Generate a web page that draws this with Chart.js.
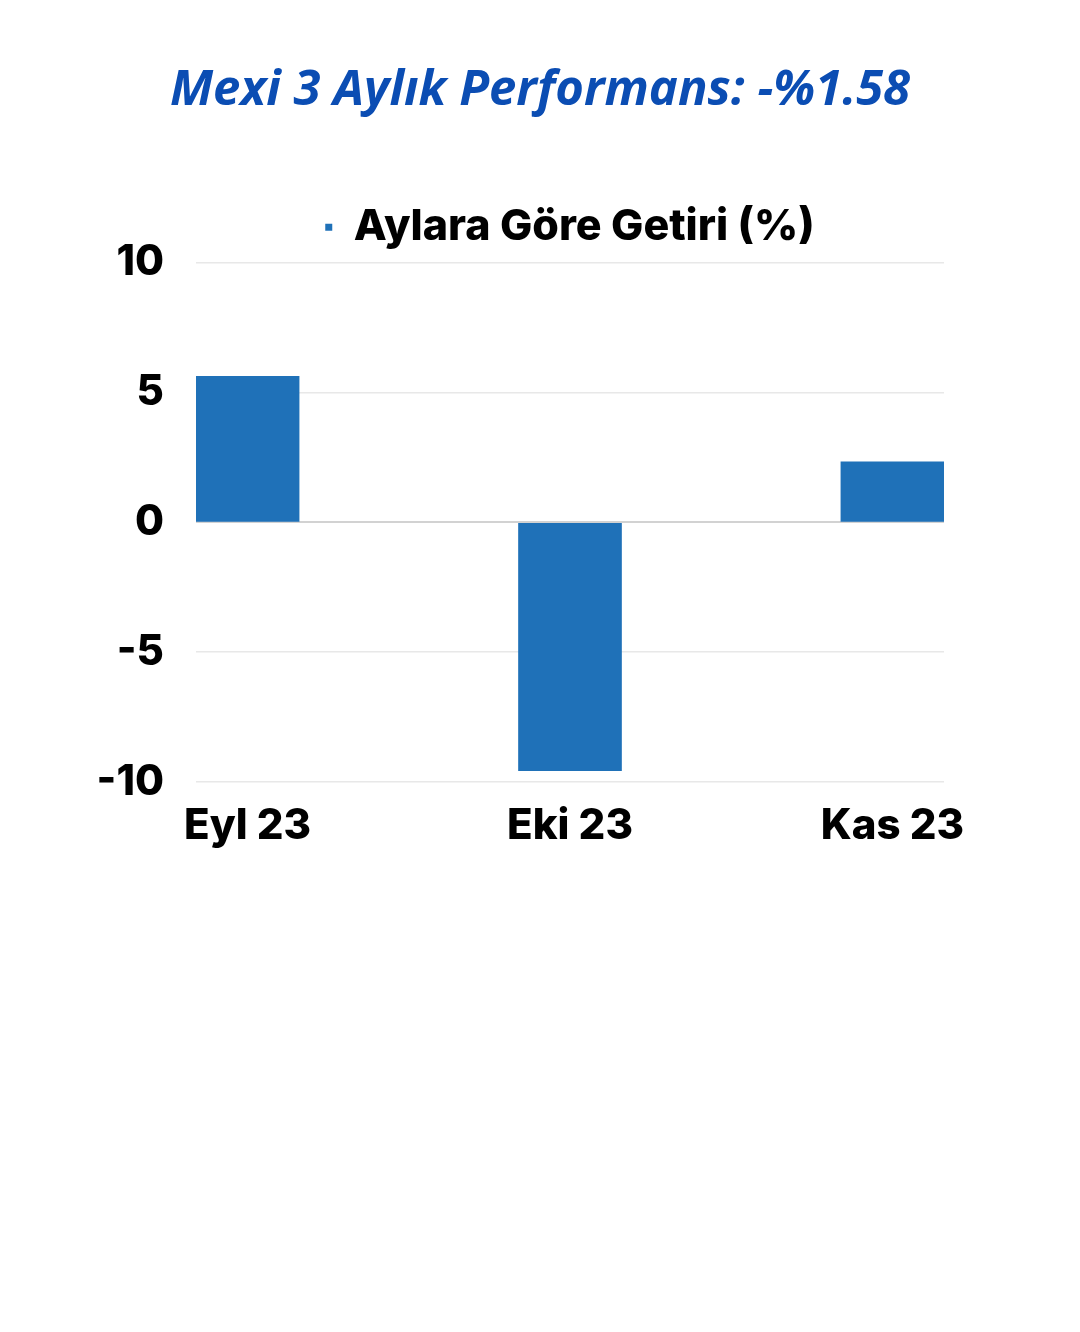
<!DOCTYPE html>
<html lang="tr">
<head>
<meta charset="utf-8">
<title>Mexi 3 Aylık Performans</title>
<script src="https://cdn.jsdelivr.net/npm/chart.js@4/dist/chart.umd.min.js"></script>
<style>
  html, body { margin: 0; padding: 0; background: #fff; }
  canvas { display: block; }
</style>
</head>
<body>
<canvas id="myChart" width="1080" height="1332"></canvas>
<script>
// ---------- data ----------
const TITLE      = "Mexi 3 Aylık Performans: -%1.58";
const SERIES     = "Aylara Göre Getiri (%)";
const categories = ["Eyl 23", "Eki 23", "Kas 23"];
const returns    = [5.63, -9.56, 2.33];
const yTicks     = [-10, -5, 0, 5, 10];

const BAR_BLUE   = "#1f71b8";
const TITLE_BLUE = "#0b4db3";
const LABEL_FONT = "Inter";

document.addEventListener("DOMContentLoaded", () => {
  const ctx = document.getElementById("myChart").getContext("2d");

  new Chart(ctx, {
    type: "bar",
    data: {
      datasets: [{
        label: SERIES,
        data: categories.map((c, i) => ({ x: i, y: returns[i] })),
        backgroundColor: BAR_BLUE,
        borderWidth: 0,
        barThickness: 103,
      }],
    },
    options: {
      responsive: false,
      animation: false,
      devicePixelRatio: 1,
      layout: { padding: { left: 0, right: 0, top: 0, bottom: 470 } },
      plugins: {
        title: {
          display: true,
          text: TITLE,
          color: TITLE_BLUE,
          font: { family: "Open Sans", size: 49, weight: "bold", style: "italic", lineHeight: 1.2 },
          padding: { top: 62, bottom: 69 },
        },
        legend: {
          display: true,
          fullSize: false,
          onClick: () => {},
          labels: {
            color: "#000",
            boxWidth: 7,
            boxHeight: 7,
            padding: 16,
            font: { family: LABEL_FONT, size: 43, weight: "800" },
          },
        },
        tooltip: { enabled: false },
      },
      scales: {
        x: {
          type: "linear",
          min: -0.16,
          max: 2.16,
          offset: false,
          afterBuildTicks: s => { s.ticks = categories.map((c, i) => ({ value: i })); },
          afterFit: s => { s.height = 80; },
          grid: { display: false, drawTicks: false, offset: false },
          border: { display: false },
          ticks: {
            callback: v => categories[v],
            color: "#000",
            padding: 19,
            maxRotation: 0,
            minRotation: 0,
            autoSkip: false,
            font: { family: LABEL_FONT, size: 42, weight: "800" },
          },
        },
        // thin empty axis: small gap between legend and plot top
        xTop: {
          type: "linear",
          position: "top",
          display: true,
          afterFit: s => { s.height = 4; },
          grid: { display: false, drawTicks: false },
          border: { display: false },
          ticks: { display: false },
        },
        y: {
          min: -10,
          max: 10,
          afterBuildTicks: s => { s.ticks = yTicks.map(v => ({ value: v })); },
          afterFit: s => { s.width = 196; },
          grid: {
            drawTicks: false,
            color: c => c.tick && c.tick.value === 0 ? "#d2d2d2" : "#e8e8e8",
            lineWidth: c => c.tick && c.tick.value === 0 ? 2 : 1.5,
          },
          border: { display: false },
          ticks: {
            color: "#000",
            padding: 32,
            font: { family: LABEL_FONT, size: 42, weight: "800" },
          },
        },
        // empty right axis only reserves the white margin right of the plot
        yRight: {
          position: "right",
          display: true,
          afterFit: s => { s.width = 136; },
          grid: { display: false, drawTicks: false },
          border: { display: false },
          ticks: { display: false },
        },
      },
    },
  });
});
</script>
</body>
</html>
